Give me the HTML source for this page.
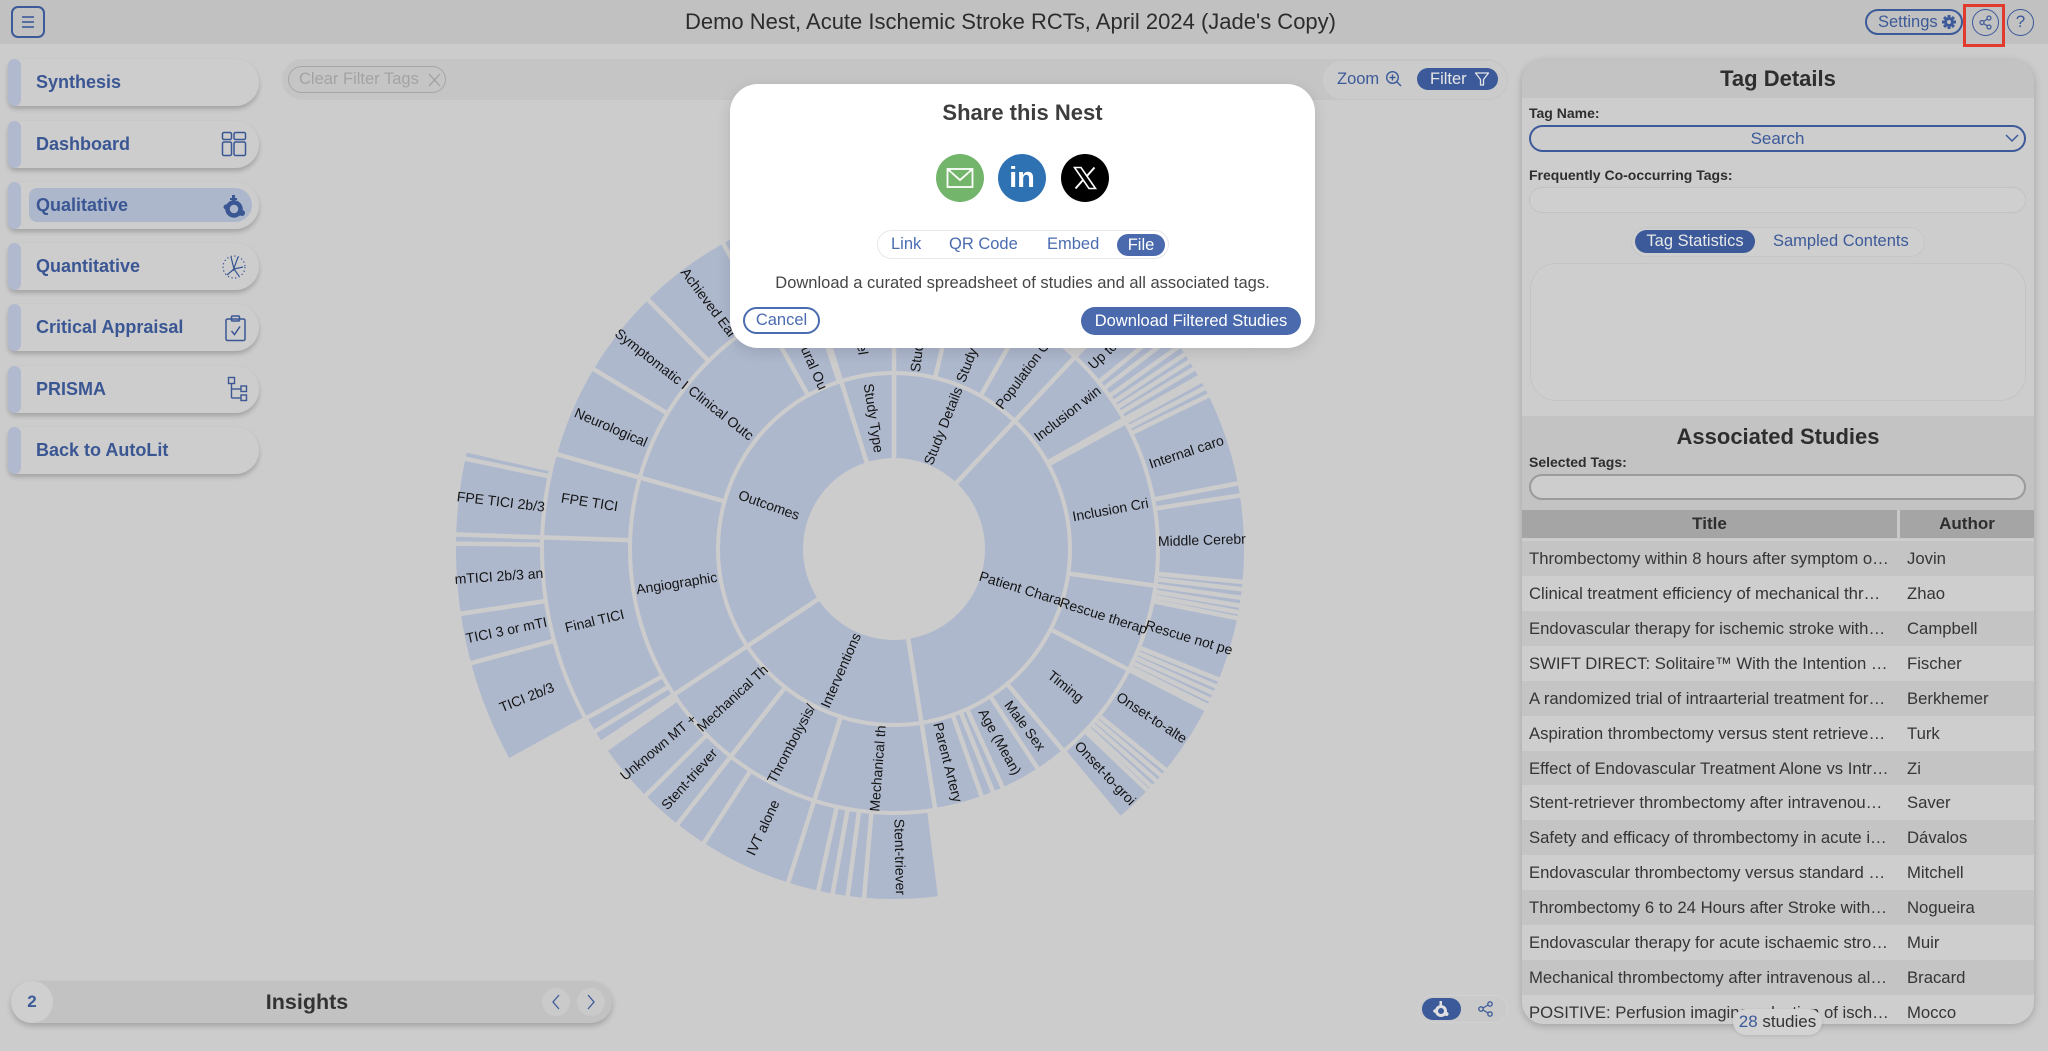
<!DOCTYPE html>
<html><head><meta charset="utf-8">
<style>
*{box-sizing:border-box;margin:0;padding:0}
html,body{width:2048px;height:1051px;overflow:hidden}
body{background:#cccccc;font-family:"Liberation Sans",Arial,sans-serif;position:relative}
.abs{position:absolute}
.sb{position:absolute;left:8px;width:251px;height:47px;background:#cdcdcd;border-radius:8px 24px 24px 8px;box-shadow:0 3px 5px rgba(0,0,0,.2)}
.sb .acc{position:absolute;left:0;top:0;width:13px;height:47px;background:#b0b9cd;border-radius:8px}
.sb span{position:absolute;left:28px;top:0;line-height:47px;font-weight:bold;font-size:18px;color:#3a5693;white-space:nowrap}
.row{position:absolute;left:0;width:512px;height:35px;font-size:16.7px;color:#353535;line-height:35px;white-space:nowrap}
.row .t{position:absolute;left:7px;width:362px;overflow:hidden}
.row .a{position:absolute;left:385px}
.mt{position:absolute;font-size:16.5px;color:#4b6cb0;line-height:22px;top:233px;white-space:nowrap}
</style></head><body>

<!-- header -->
<div class="abs" style="left:0;top:0;width:2048px;height:44px;background:#c1c1c1"></div>
<div class="abs" style="left:0;top:0;width:2021px;height:44px;line-height:44px;text-align:center;font-size:22px;color:#2c2c2c;white-space:nowrap">Demo Nest, Acute Ischemic Stroke RCTs, April 2024 (Jade's Copy)</div>
<div class="abs" style="left:11px;top:6px;width:34px;height:32px;border:2px solid #3c5a99;border-radius:7px"></div>
<svg class="abs" style="left:11px;top:6px" width="34" height="32"><g stroke="#3c5a99" stroke-width="1.6"><line x1="11" y1="11" x2="23" y2="11"/><line x1="11" y1="16" x2="23" y2="16"/><line x1="11" y1="21" x2="23" y2="21"/></g></svg>

<div class="abs" style="left:1865px;top:9px;width:98px;height:26px;border:2px solid #3c5a99;border-radius:13px"></div>
<div class="abs" style="left:1878px;top:9px;line-height:26px;font-size:16.5px;color:#3c5a99">Settings</div>
<svg class="abs" style="left:1942px;top:15px" width="14" height="14"><g fill="#3c5a99"><circle cx="7" cy="7" r="4.8"/><rect x="5.5" y="0" width="3" height="14"/><rect x="0" y="5.5" width="14" height="3"/><rect x="5.5" y="0" width="3" height="14" transform="rotate(45 7 7)"/><rect x="5.5" y="0" width="3" height="14" transform="rotate(-45 7 7)"/></g><circle cx="7" cy="7" r="2" fill="#c1c1c1"/></svg>
<div class="abs" style="left:1972px;top:9px;width:27px;height:27px;border:1.5px solid #3c5a99;border-radius:50%"></div>
<svg class="abs" style="left:1972px;top:9px" width="27" height="27"><g stroke="#3c5a99" stroke-width="1.2" fill="none"><circle cx="10" cy="13.5" r="2"/><circle cx="17" cy="9" r="2"/><circle cx="17" cy="18" r="2"/><line x1="11.7" y1="12.4" x2="15.3" y2="10.1"/><line x1="11.7" y1="14.6" x2="15.3" y2="16.9"/></g></svg>
<div class="abs" style="left:1963px;top:4px;width:42px;height:43px;border:3px solid #e23a2d"></div>
<div class="abs" style="left:2007px;top:9px;width:27px;height:27px;border:1.5px solid #3c5a99;border-radius:50%;text-align:center;line-height:24px;font-size:17px;color:#3c5a99">?</div>

<!-- sidebar -->
<div class="sb" style="top:59px"><div class="acc"></div><span>Synthesis</span></div>
<div class="sb" style="top:121px"><div class="acc"></div><span>Dashboard</span></div>
<div class="sb" style="top:182px"><div class="acc"></div><div class="abs" style="left:21px;top:6px;width:223px;height:34px;background:#adb7cc;border-radius:8px 17px 17px 8px"></div><span>Qualitative</span></div>
<div class="sb" style="top:243px"><div class="acc"></div><span>Quantitative</span></div>
<div class="sb" style="top:304px"><div class="acc"></div><span>Critical Appraisal</span></div>
<div class="sb" style="top:366px"><div class="acc"></div><span>PRISMA</span></div>
<div class="sb" style="top:427px"><div class="acc"></div><span>Back to AutoLit</span></div>

<svg class="abs" style="left:221px;top:131px" width="27" height="26"><g fill="none" stroke="#3a5693" stroke-width="1.5"><rect x="1.5" y="1.5" width="9" height="7" rx="1.5"/><rect x="13" y="1.5" width="11.5" height="7" rx="1.5"/><rect x="1.5" y="11" width="9" height="13.5" rx="1.5"/><rect x="13" y="11" width="11.5" height="13.5" rx="1.5"/></g></svg>
<svg class="abs" style="left:222px;top:192px" width="26" height="26"><g fill="#3a5693"><circle cx="12" cy="17" r="6.5" fill="none" stroke="#3a5693" stroke-width="4.5"/><rect x="10" y="3" width="3" height="8"/><rect x="8" y="6" width="7" height="2"/><circle cx="20" cy="21" r="3"/><circle cx="4" cy="15" r="2.5"/></g><circle cx="12" cy="17" r="2" fill="#adb7cc"/></svg>
<svg class="abs" style="left:221px;top:254px" width="26" height="26"><g fill="none" stroke="#3a5693" stroke-width="1.2"><circle cx="13" cy="13" r="11" stroke-dasharray="1.3 2.4"/><line x1="10" y1="3" x2="13" y2="15"/><line x1="17" y1="3" x2="12" y2="17"/><line x1="13" y1="15" x2="22" y2="13"/><line x1="13" y1="15" x2="6" y2="21"/><line x1="13" y1="15" x2="18" y2="22"/></g></svg>
<svg class="abs" style="left:225px;top:315px" width="22" height="27"><g fill="none" stroke="#3a5693" stroke-width="1.5"><rect x="1" y="4" width="19" height="21.5" rx="1.5"/><rect x="6.5" y="1" width="8" height="5" rx="1"/><polyline points="6.5,16 9.5,19.5 15,11.5"/></g></svg>
<svg class="abs" style="left:227px;top:376px" width="22" height="27"><g fill="none" stroke="#3a5693" stroke-width="1.4"><rect x="1.5" y="1.5" width="6" height="6"/><line x1="4.5" y1="7.5" x2="4.5" y2="22"/><line x1="4.5" y1="13" x2="14" y2="13"/><line x1="4.5" y1="22" x2="14" y2="22"/><rect x="14" y="10" width="5.5" height="5.5"/><rect x="14" y="19" width="5.5" height="5.5"/></g></svg>

<!-- filter bar -->
<div class="abs" style="left:282px;top:59px;width:1226px;height:41px;background:#c5c5c5;border-radius:21px"></div>
<div class="abs" style="left:288px;top:66px;width:158px;height:27px;border:1.5px solid #a6a6a6;border-radius:14px"></div>
<div class="abs" style="left:299px;top:66px;line-height:27px;font-size:16.5px;color:#a3a3a3;white-space:nowrap">Clear Filter Tags</div>
<svg class="abs" style="left:427px;top:72px" width="16" height="16"><g stroke="#a3a3a3" stroke-width="1.3"><line x1="2" y1="2" x2="13" y2="14"/><line x1="13" y1="2" x2="2" y2="14"/></g></svg>
<div class="abs" style="left:1323px;top:61px;width:184px;height:38px;background:#cbcbcb;border-radius:19px"></div>
<div class="abs" style="left:1337px;top:68px;line-height:22px;font-size:16.5px;color:#3c5a99">Zoom</div>
<svg class="abs" style="left:1385px;top:70px" width="18" height="18"><g fill="none" stroke="#3c5a99" stroke-width="1.4"><circle cx="7.5" cy="7.5" r="5.8"/><line x1="7.5" y1="4.5" x2="7.5" y2="10.5"/><line x1="4.5" y1="7.5" x2="10.5" y2="7.5"/><line x1="11.7" y1="11.7" x2="16" y2="16"/></g></svg>
<div class="abs" style="left:1417px;top:68px;width:81px;height:22px;background:#3c5a99;border-radius:11px"></div>
<div class="abs" style="left:1430px;top:68px;line-height:22px;font-size:16.5px;color:#e6e6e6">Filter</div>
<svg class="abs" style="left:1474px;top:71px" width="16" height="16"><polygon points="1.5,2 14.5,2 9.5,8.5 9.5,14 6.5,14 6.5,8.5" fill="none" stroke="#e6e6e6" stroke-width="1.3" stroke-linejoin="round"/></svg>

<!-- sunburst -->
<svg class="abs" style="left:0;top:0" width="2048" height="1051">
<g transform="translate(894 549)">
<g fill="none" stroke="#aeb8cd">
<circle r="132.5" stroke-width="83"/>
<circle r="220" stroke-width="84"/>
<circle r="308" stroke-width="84" stroke-dasharray="566.05 5000" transform="rotate(146.5)"/>
<circle r="308" stroke-width="84" stroke-dasharray="518.21 5000" transform="rotate(-46.7)"/>
<circle r="308" stroke-width="84" stroke-dasharray="333.29 5000" transform="rotate(82.8)"/>
<circle r="396" stroke-width="84" stroke-dasharray="286.83 5000" transform="rotate(151.2)"/>
</g>
<g stroke="#cccccc" stroke-width="4.5">
<line y1="-86" y2="-444" transform="rotate(236.5)"/>
<line y1="-86" y2="-444" transform="rotate(342.5)"/>
<line y1="-86" y2="-444" transform="rotate(0)"/>
<line y1="-86" y2="-444" transform="rotate(43.3)"/>
<line y1="-86" y2="-444" transform="rotate(171)"/>
<line y1="-175" y2="-444" transform="rotate(285.7)"/>
<line y1="-175" y2="-444" transform="rotate(330.8)"/>
<line y1="-175" y2="-444" transform="rotate(341.8)"/>
<line y1="-175" y2="-444" transform="rotate(13.5)"/>
<line y1="-175" y2="-444" transform="rotate(29.5)"/>
<line y1="-175" y2="-444" transform="rotate(60.6)"/>
<line y1="-175" y2="-444" transform="rotate(61.3)"/>
<line y1="-175" y2="-444" transform="rotate(98)"/>
<line y1="-175" y2="-444" transform="rotate(117.2)"/>
<line y1="-175" y2="-444" transform="rotate(140)"/>
<line y1="-175" y2="-444" transform="rotate(146.8)"/>
<line y1="-175" y2="-444" transform="rotate(155.5)"/>
<line y1="-175" y2="-444" transform="rotate(157.8)"/>
<line y1="-175" y2="-444" transform="rotate(160.5)"/>
<line y1="-175" y2="-444" transform="rotate(197.6)"/>
<line y1="-175" y2="-444" transform="rotate(218.2)"/>
<line y1="-263" y2="-444" transform="rotate(238.6)"/>
<line y1="-263" y2="-444" transform="rotate(241.2)"/>
<line y1="-263" y2="-444" transform="rotate(271.9)"/>
<line y1="-263" y2="-444" transform="rotate(300.9)"/>
<line y1="-263" y2="-444" transform="rotate(315.4)"/>
<line y1="-263" y2="-444" transform="rotate(50.8)"/>
<line y1="-263" y2="-444" transform="rotate(52.6)"/>
<line y1="-263" y2="-444" transform="rotate(54.6)"/>
<line y1="-263" y2="-444" transform="rotate(56.2)"/>
<line y1="-263" y2="-444" transform="rotate(57.6)"/>
<line y1="-263" y2="-444" transform="rotate(59)"/>
<line y1="-263" y2="-444" transform="rotate(62.6)"/>
<line y1="-263" y2="-444" transform="rotate(64)"/>
<line y1="-263" y2="-444" transform="rotate(79.2)"/>
<line y1="-263" y2="-444" transform="rotate(81.2)"/>
<line y1="-263" y2="-444" transform="rotate(95.4)"/>
<line y1="-263" y2="-444" transform="rotate(96.6)"/>
<line y1="-263" y2="-444" transform="rotate(99.3)"/>
<line y1="-263" y2="-444" transform="rotate(100.4)"/>
<line y1="-263" y2="-444" transform="rotate(101.4)"/>
<line y1="-263" y2="-444" transform="rotate(111.9)"/>
<line y1="-263" y2="-444" transform="rotate(113.1)"/>
<line y1="-263" y2="-444" transform="rotate(114.3)"/>
<line y1="-263" y2="-444" transform="rotate(115.5)"/>
<line y1="-263" y2="-444" transform="rotate(116.6)"/>
<line y1="-263" y2="-444" transform="rotate(129.1)"/>
<line y1="-263" y2="-444" transform="rotate(130.3)"/>
<line y1="-263" y2="-444" transform="rotate(131.5)"/>
<line y1="-263" y2="-444" transform="rotate(132.7)"/>
<line y1="-263" y2="-444" transform="rotate(133.6)"/>
<line y1="-263" y2="-444" transform="rotate(184.9)"/>
<line y1="-263" y2="-444" transform="rotate(187.6)"/>
<line y1="-263" y2="-444" transform="rotate(190.1)"/>
<line y1="-263" y2="-444" transform="rotate(192.5)"/>
<line y1="-263" y2="-444" transform="rotate(212.9)"/>
<line y1="-263" y2="-444" transform="rotate(225.2)"/>
<line y1="-351" y2="-444" transform="rotate(254.9)"/>
<line y1="-351" y2="-444" transform="rotate(261.5)"/>
<line y1="-351" y2="-444" transform="rotate(270.7)"/>
<line y1="-351" y2="-444" transform="rotate(281.9)"/>
</g>
<g font-family="Liberation Sans, Arial, sans-serif" font-size="14" fill="#141414" text-anchor="middle">
<text transform="rotate(199.5) translate(132.5 0) rotate(180)" dy="5">Outcomes</text>
<text transform="rotate(261.25) translate(132.5 0) rotate(180)" dy="5">Study Type</text>
<text transform="rotate(-68.35) translate(132.5 0)" dy="5">Study Details</text>
<text transform="rotate(17.15) translate(132.5 0)" dy="5">Patient Chara</text>
<text transform="rotate(113.75) translate(132.5 0) rotate(180)" dy="5">Interventions</text>

<text transform="rotate(171.1) translate(220 0) rotate(180)" dy="5">Angiographic</text>
<text transform="rotate(218.25) translate(220 0) rotate(180)" dy="5">Clinical Outc</text>
<text transform="rotate(246.3) translate(220 0) rotate(180)" dy="5">Procedural Ou</text>
<text transform="rotate(261.1) translate(220 0) rotate(180)" dy="5">Parallel</text>
<text transform="rotate(-83.25) translate(220 0)" dy="5">Study Design</text>
<text transform="rotate(-68.5) translate(220 0)" dy="5">Study Period</text>
<text transform="rotate(-53.6) translate(220 0)" dy="5">Population Ch</text>
<text transform="rotate(-38.05) translate(220 0)" dy="5">Inclusion win</text>
<text transform="rotate(-10.35) translate(220 0)" dy="5">Inclusion Cri</text>
<text transform="rotate(17.6) translate(220 0)" dy="5">Rescue therap</text>
<text transform="rotate(38.6) translate(220 0)" dy="5">Timing</text>
<text transform="rotate(53.4) translate(220 0)" dy="5">Male Sex</text>
<text transform="rotate(61.15) translate(220 0)" dy="5">Age (Mean)</text>
<text transform="rotate(75.75) translate(220 0)" dy="5">Parent Artery</text>
<text transform="rotate(94.3) translate(220 0) rotate(180)" dy="5">Mechanical th</text>
<text transform="rotate(117.9) translate(220 0) rotate(180)" dy="5">Thrombolysis/</text>
<text transform="rotate(137.35) translate(220 0) rotate(180)" dy="5">Mechanical Th</text>

<text transform="rotate(166.55) translate(308 0) rotate(180)" dy="5">Final TICI</text>
<text transform="rotate(188.8) translate(308 0) rotate(180)" dy="5">FPE TICI</text>
<text transform="rotate(203.3) translate(308 0) rotate(180)" dy="5">Neurological</text>
<text transform="rotate(218.15) translate(308 0) rotate(180)" dy="5">Symptomatic I</text>
<text transform="rotate(233.1) translate(308 0) rotate(180)" dy="5">Achieved Ear</text>
<text transform="rotate(-42.95) translate(308 0)" dy="5">Up to 24 hou</text>
<text transform="rotate(-18.4) translate(308 0)" dy="5">Internal caro</text>
<text transform="rotate(-1.7) translate(308 0)" dy="5">Middle Cerebr</text>
<text transform="rotate(16.65) translate(308 0)" dy="5">Rescue not pe</text>
<text transform="rotate(33.15) translate(308 0)" dy="5">Onset-to-alte</text>
<text transform="rotate(46.65) translate(308 0)" dy="5">Onset-to-groi</text>
<text transform="rotate(88.85) translate(308 0)" dy="5">Stent-triever</text>
<text transform="rotate(115.25) translate(308 0) rotate(180)" dy="5">IVT alone</text>
<text transform="rotate(131.7) translate(308 0) rotate(180)" dy="5">Stent-triever</text>
<text transform="rotate(140) translate(308 0) rotate(180)" dy="5">Unknown MT +</text>

<text transform="rotate(158.05) translate(396 0) rotate(180)" dy="5">TICI 2b/3</text>
<text transform="rotate(168.2) translate(396 0) rotate(180)" dy="5">TICI 3 or mTI</text>
<text transform="rotate(176.1) translate(396 0) rotate(180)" dy="5">mTICI 2b/3 an</text>
<text transform="rotate(186.9) translate(396 0) rotate(180)" dy="5">FPE TICI 2b/3</text>
</g>
</g>
</svg>

<!-- modal -->
<div class="abs" style="left:730px;top:84px;width:585px;height:264px;background:#fff;border-radius:28px;box-shadow:0 4px 14px rgba(0,0,0,.12)"></div>
<div class="abs" style="left:730px;top:100px;width:585px;line-height:26px;text-align:center;font-size:22px;font-weight:bold;color:#3d3d3d">Share this Nest</div>
<div class="abs" style="left:936px;top:154px;width:48px;height:48px;border-radius:50%;background:#73b56a"></div>
<svg class="abs" style="left:936px;top:154px" width="48" height="48"><g fill="none" stroke="#fff" stroke-width="1.8"><rect x="11.5" y="15" width="25" height="18"/><polyline points="11.5,15 24,26 36.5,15"/></g></svg>
<div class="abs" style="left:998px;top:154px;width:48px;height:48px;border-radius:50%;background:#2e72b3"></div>
<div class="abs" style="left:998px;top:154px;width:48px;height:48px;line-height:48px;text-align:center;font-size:29px;font-weight:bold;color:#fff">in</div>
<div class="abs" style="left:1061px;top:154px;width:48px;height:48px;border-radius:50%;background:#000"></div>
<svg class="abs" style="left:1061px;top:154px" width="48" height="48"><polygon points="13.5,13.5 20,13.5 34.5,34.5 28,34.5" fill="none" stroke="#fff" stroke-width="1.6"/><line x1="33.5" y1="13.5" x2="25.5" y2="22.5" stroke="#fff" stroke-width="2"/><line x1="22.5" y1="25.5" x2="14.5" y2="34.5" stroke="#fff" stroke-width="2"/></svg>

<div class="abs" style="left:877px;top:230px;width:292px;height:29px;border:1px solid #e8e8e8;border-radius:15px"></div>
<div class="mt" style="left:891px">Link</div>
<div class="mt" style="left:949px">QR Code</div>
<div class="mt" style="left:1047px">Embed</div>
<div class="abs" style="left:1117px;top:234px;width:48px;height:22px;background:#4a6aad;border-radius:11px;color:#fff;font-size:16.5px;line-height:22px;text-align:center">File</div>
<div class="abs" style="left:730px;top:273px;width:585px;line-height:20px;text-align:center;font-size:16.5px;color:#454545;white-space:nowrap">Download a curated spreadsheet of studies and all associated tags.</div>
<div class="abs" style="left:743px;top:307px;width:77px;height:27px;border:2px solid #4b6cb0;border-radius:14px;text-align:center;line-height:23px;font-size:16.5px;color:#4b6cb0">Cancel</div>
<div class="abs" style="left:1081px;top:307px;width:220px;height:28px;background:#4a6aad;border-radius:14px;text-align:center;line-height:28px;font-size:16.5px;color:#fff;white-space:nowrap">Download Filtered Studies</div>

<!-- right panel -->
<div class="abs" style="left:1522px;top:60px;width:512px;height:964px;background:#cdcdcd;border-radius:22px;overflow:hidden;box-shadow:0 2px 8px rgba(0,0,0,.22)">
  <div class="abs" style="left:0;top:0;width:512px;height:38px;background:#c3c3c3;line-height:38px;text-align:center;font-size:22px;font-weight:bold;color:#2e2e2e">Tag Details</div>
  <div class="abs" style="left:7px;top:45px;line-height:16px;font-size:14px;font-weight:bold;color:#2e2e2e">Tag Name:</div>
  <div class="abs" style="left:7px;top:65px;width:497px;height:27px;border:2px solid #3c5a99;border-radius:14px;text-align:center;line-height:23px;font-size:17px;color:#3c5a99">Search</div>
  <svg class="abs" style="left:482px;top:71px" width="16" height="14"><polyline points="2,4 8,10 14,4" fill="none" stroke="#3c5a99" stroke-width="1.5"/></svg>
  <div class="abs" style="left:7px;top:107px;line-height:16px;font-size:14px;font-weight:bold;color:#2e2e2e;white-space:nowrap">Frequently Co-occurring Tags:</div>
  <div class="abs" style="left:7px;top:127px;width:497px;height:26px;border:1px solid #c2c2c2;background:#cfcfcf;border-radius:13px"></div>
  <div class="abs" style="left:109px;top:167px;width:294px;height:30px;border:1px solid #c6c6c6;background:#cfcfcf;border-radius:15px"></div>
  <div class="abs" style="left:113px;top:170px;width:120px;height:23px;background:#3c5a99;border-radius:12px;color:#e8e8e8;text-align:center;line-height:23px;font-size:16.5px;white-space:nowrap">Tag Statistics</div>
  <div class="abs" style="left:251px;top:170px;line-height:23px;font-size:16.5px;color:#3c5a99;white-space:nowrap">Sampled Contents</div>
  <div class="abs" style="left:8px;top:203px;width:496px;height:138px;border:1px solid #c4c4c4;background:#cecece;border-radius:26px"></div>
  <div class="abs" style="left:0;top:356px;width:512px;height:94px;background:#c3c3c3"></div>
  <div class="abs" style="left:0;top:362px;width:512px;line-height:30px;text-align:center;font-size:22px;font-weight:bold;color:#2e2e2e">Associated Studies</div>
  <div class="abs" style="left:7px;top:394px;line-height:16px;font-size:14px;font-weight:bold;color:#2e2e2e">Selected Tags:</div>
  <div class="abs" style="left:7px;top:414px;width:497px;height:26px;border:2px solid #9b9b9b;background:#cdcdcd;border-radius:13px"></div>
  <div class="abs" style="left:0;top:450px;width:512px;height:29px;background:#c9c9c9"></div>
  <div class="abs" style="left:0;top:450px;width:375px;height:28px;background:#a5a5a5;text-align:center;line-height:28px;font-size:17px;font-weight:bold;color:#2e2e2e">Title</div>
  <div class="abs" style="left:378px;top:450px;width:134px;height:28px;background:#a5a5a5;text-align:center;line-height:28px;font-size:17px;font-weight:bold;color:#2e2e2e">Author</div>

  <div class="row" style="top:481px;background:#c4c4c4"><span class="t">Thrombectomy within 8 hours after symptom o…</span><span class="a">Jovin</span></div>
  <div class="row" style="top:516px;background:#cecece"><span class="t">Clinical treatment efficiency of mechanical thr…</span><span class="a">Zhao</span></div>
  <div class="row" style="top:551px;background:#c4c4c4"><span class="t">Endovascular therapy for ischemic stroke with…</span><span class="a">Campbell</span></div>
  <div class="row" style="top:586px;background:#cecece"><span class="t">SWIFT DIRECT: Solitaire™ With the Intention …</span><span class="a">Fischer</span></div>
  <div class="row" style="top:621px;background:#c4c4c4"><span class="t">A randomized trial of intraarterial treatment for…</span><span class="a">Berkhemer</span></div>
  <div class="row" style="top:656px;background:#cecece"><span class="t">Aspiration thrombectomy versus stent retrieve…</span><span class="a">Turk</span></div>
  <div class="row" style="top:691px;background:#c4c4c4"><span class="t">Effect of Endovascular Treatment Alone vs Intr…</span><span class="a">Zi</span></div>
  <div class="row" style="top:725px;background:#cecece"><span class="t">Stent-retriever thrombectomy after intravenou…</span><span class="a">Saver</span></div>
  <div class="row" style="top:760px;background:#c4c4c4"><span class="t">Safety and efficacy of thrombectomy in acute i…</span><span class="a">Dávalos</span></div>
  <div class="row" style="top:795px;background:#cecece"><span class="t">Endovascular thrombectomy versus standard …</span><span class="a">Mitchell</span></div>
  <div class="row" style="top:830px;background:#c4c4c4"><span class="t">Thrombectomy 6 to 24 Hours after Stroke with…</span><span class="a">Nogueira</span></div>
  <div class="row" style="top:865px;background:#cecece"><span class="t">Endovascular therapy for acute ischaemic stro…</span><span class="a">Muir</span></div>
  <div class="row" style="top:900px;background:#c4c4c4"><span class="t">Mechanical thrombectomy after intravenous al…</span><span class="a">Bracard</span></div>
  <div class="row" style="top:935px;background:#cecece"><span class="t">POSITIVE: Perfusion imaging selection of isch…</span><span class="a">Mocco</span></div>
</div>
<div class="abs" style="left:1733px;top:1009px;width:89px;height:26px;background:#d3d3d3;border-radius:13px;box-shadow:0 1px 3px rgba(0,0,0,.12);text-align:center;line-height:26px;font-size:17px;color:#333;white-space:nowrap"><span style="color:#3c5a99">28</span> studies</div>

<!-- insights -->
<div class="abs" style="left:11px;top:981px;width:601px;height:42px;background:#c2c2c2;border-radius:21px;box-shadow:0 3px 6px rgba(0,0,0,.2)"></div>
<div class="abs" style="left:11px;top:981px;width:42px;height:42px;background:#cfcfcf;border-radius:50%;text-align:center;line-height:42px;font-size:17px;font-weight:bold;color:#3c5a99">2</div>
<div class="abs" style="left:11px;top:981px;width:592px;line-height:42px;text-align:center;font-size:21.5px;font-weight:bold;color:#333">Insights</div>
<div class="abs" style="left:542px;top:988px;width:28px;height:28px;background:#cacaca;border-radius:50%"></div>
<div class="abs" style="left:577px;top:988px;width:28px;height:28px;background:#cacaca;border-radius:50%"></div>
<svg class="abs" style="left:542px;top:988px" width="63" height="28"><g fill="none" stroke="#3c5a99" stroke-width="1.3"><polyline points="17,7 11,14 17,21"/><polyline points="46,7 52,14 46,21"/></g></svg>

<!-- bottom center view switch -->
<div class="abs" style="left:1418px;top:995px;width:90px;height:28px;background:#cacaca;border:1px solid #d2d2d2;border-radius:14px"></div>
<div class="abs" style="left:1422px;top:998px;width:39px;height:22px;background:#3c5a99;border-radius:11px"></div>
<svg class="abs" style="left:1430px;top:998px" width="22" height="22"><g fill="#e0e0e0"><circle cx="11" cy="13" r="4.5" fill="none" stroke="#e0e0e0" stroke-width="3"/><rect x="9.5" y="3" width="2.5" height="6"/><circle cx="16.5" cy="16" r="2"/><circle cx="5" cy="13" r="1.8"/></g></svg>
<svg class="abs" style="left:1476px;top:999px" width="20" height="20"><g stroke="#3c5a99" stroke-width="1.3" fill="none"><circle cx="5" cy="10" r="2.2"/><circle cx="14" cy="5" r="2.2"/><circle cx="14" cy="15" r="2.2"/><line x1="7" y1="9" x2="12" y2="6"/><line x1="7" y1="11" x2="12" y2="14"/></g></svg>

</body></html>
